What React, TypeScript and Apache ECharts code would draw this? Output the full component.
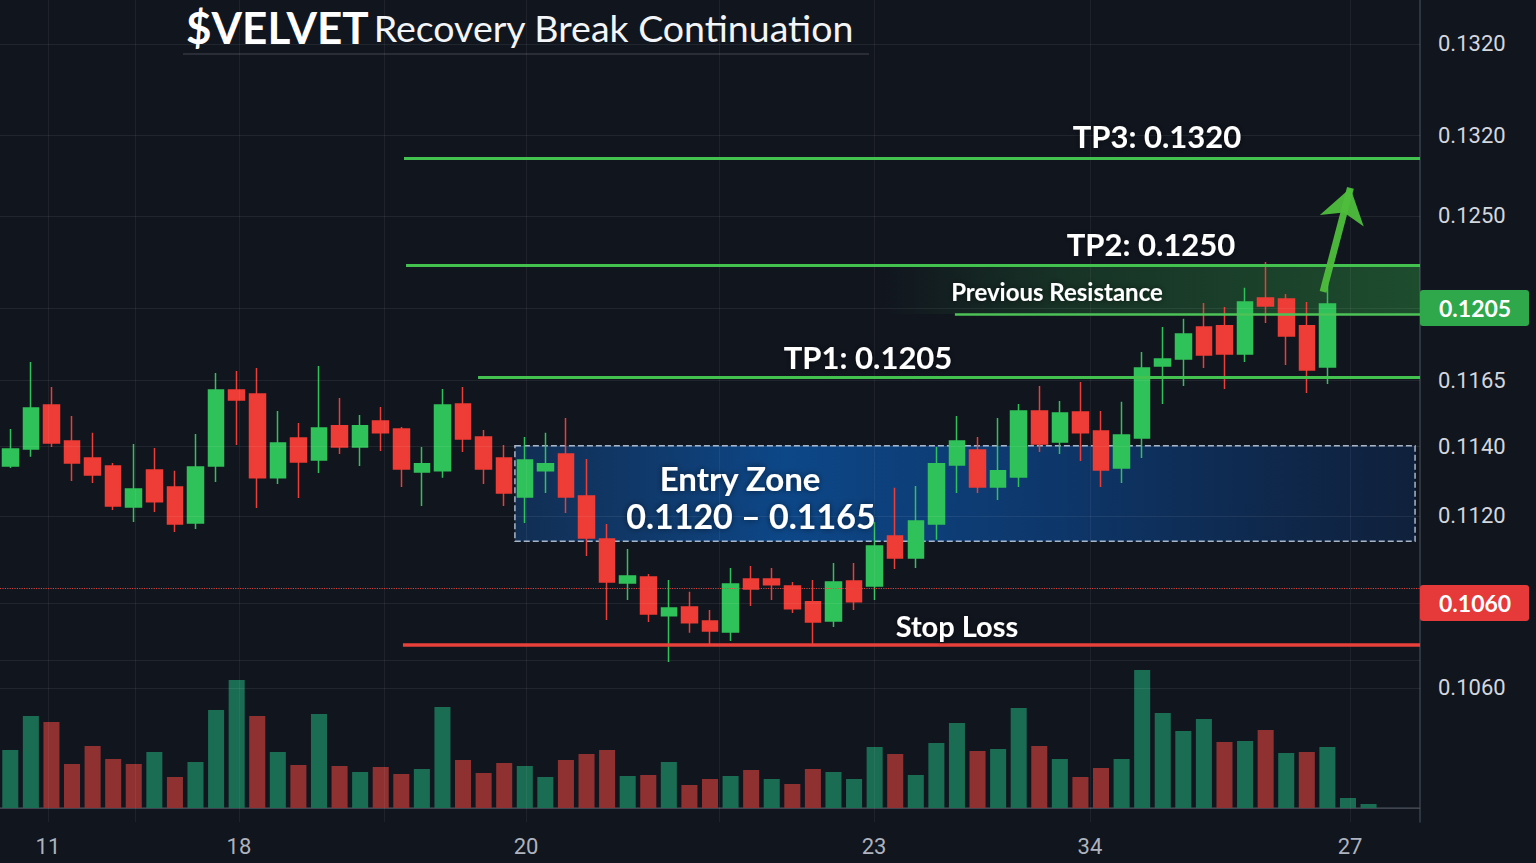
import React, { useEffect, useRef } from "react";
import * as echarts from "echarts";

// ---------- data ----------
const slotCount = 69; // category slots on the time axis (last few are empty)

// [open, close, low, high]
const candles: number[][] = [
  [0.11555, 0.11635, 0.11546, 0.11729],
  [0.11635, 0.11828, 0.11598, 0.12045],
  [0.11842, 0.11663, 0.11645, 0.11927],
  [0.11673, 0.11569, 0.11484, 0.11791],
  [0.11593, 0.11513, 0.11475, 0.11711],
  [0.11555, 0.11367, 0.11348, 0.11569],
  [0.11362, 0.11447, 0.11291, 0.11659],
  [0.11536, 0.11386, 0.11338, 0.1164],
  [0.11456, 0.11282, 0.11244, 0.11532],
  [0.11287, 0.1155, 0.11258, 0.11706],
  [0.11555, 0.11913, 0.1148, 0.11993],
  [0.11913, 0.11866, 0.11654, 0.12002],
  [0.11894, 0.11499, 0.11357, 0.12017],
  [0.11499, 0.11663, 0.1147, 0.11814],
  [0.11687, 0.11574, 0.11404, 0.11758],
  [0.11583, 0.11734, 0.11522, 0.12026],
  [0.11744, 0.11645, 0.11612, 0.11875],
  [0.11645, 0.11744, 0.11555, 0.11795],
  [0.11767, 0.11711, 0.11626, 0.11833],
  [0.11729, 0.11541, 0.11456, 0.11739],
  [0.11527, 0.11565, 0.11367, 0.11645],
  [0.11532, 0.11842, 0.11499, 0.11918],
  [0.11847, 0.11682, 0.11621, 0.11927],
  [0.11692, 0.11541, 0.1147, 0.11725],
  [0.11593, 0.11428, 0.11367, 0.11654],
  [0.11409, 0.11583, 0.11287, 0.11692],
  [0.11532, 0.11565, 0.11428, 0.11711],
  [0.11612, 0.11409, 0.11334, 0.11781],
  [0.11414, 0.11216, 0.11131, 0.11588],
  [0.11211, 0.11009, 0.1083, 0.11282],
  [0.11004, 0.11037, 0.10924, 0.11164],
  [0.11032, 0.10858, 0.1082, 0.11046],
  [0.10849, 0.10886, 0.10632, 0.11018],
  [0.10891, 0.10816, 0.10769, 0.10962],
  [0.10825, 0.10778, 0.10716, 0.10877],
  [0.10773, 0.10999, 0.10731, 0.11075],
  [0.11023, 0.10976, 0.10896, 0.11084],
  [0.11023, 0.10995, 0.10924, 0.11075],
  [0.1099, 0.10882, 0.10863, 0.11009],
  [0.10915, 0.1082, 0.10716, 0.11018],
  [0.10825, 0.11009, 0.10797, 0.11098],
  [0.11013, 0.10915, 0.10877, 0.11098],
  [0.1099, 0.11178, 0.10924, 0.11291],
  [0.11225, 0.11122, 0.1107, 0.11452],
  [0.11122, 0.11296, 0.11075, 0.11461],
  [0.11282, 0.11565, 0.11207, 0.11645],
  [0.1156, 0.11673, 0.11428, 0.11791],
  [0.1163, 0.11456, 0.11428, 0.11692],
  [0.11456, 0.11532, 0.11395, 0.11781],
  [0.11503, 0.11814, 0.11456, 0.11847],
  [0.11814, 0.11659, 0.11621, 0.11932],
  [0.11668, 0.11805, 0.11612, 0.11861],
  [0.11809, 0.11711, 0.11579, 0.11951],
  [0.1172, 0.11536, 0.11456, 0.11814],
  [0.11546, 0.11701, 0.11475, 0.11857],
  [0.11687, 0.12017, 0.11593, 0.12092],
  [0.12026, 0.12059, 0.11847, 0.1221],
  [0.12059, 0.12177, 0.11932, 0.12248],
  [0.1221, 0.12078, 0.12017, 0.12323],
  [0.12215, 0.12083, 0.11918, 0.12304],
  [0.12083, 0.12328, 0.12045, 0.12394],
  [0.12346, 0.12309, 0.12229, 0.12516],
  [0.12342, 0.12167, 0.12031, 0.12365],
  [0.12215, 0.12007, 0.11899, 0.12328],
  [0.12021, 0.12318, 0.11941, 0.12412],
];

// volume (K) and whether each volume bar is an "up" bar
const volumes: number[] = [
  58, 92, 86, 44, 62, 49, 44, 56, 31, 46, 98, 128, 92, 56, 43, 94, 42, 36, 41, 34,
  39, 101, 48, 35, 45, 42, 31, 48, 54, 58, 32, 33, 46, 23, 29, 32, 38, 29, 24, 39,
  36, 29, 61, 54, 33, 65, 85, 57, 59, 100, 62, 49, 31, 40, 49, 138, 95, 77, 89, 66,
  67, 78, 55, 56, 61, 10, 4,
];
const volumeUp: number[] = [
  1, 1, 0, 0, 0, 0, 0, 1, 0, 1, 1, 1, 0, 1, 0, 1, 0, 1, 0, 0,
  1, 1, 0, 0, 0, 1, 1, 0, 0, 0, 1, 0, 1, 0, 0, 1, 0, 1, 0, 0,
  1, 1, 1, 0, 1, 1, 1, 0, 1, 1, 0, 1, 0, 0, 1, 1, 1, 1, 1, 0,
  1, 0, 1, 0, 1, 1, 1,
];

// price levels
const tp3Level = 0.13006;
const tp2Level = 0.12502;
const prevResistanceLevel = 0.12271;
const prevResistanceTop = 0.12502;
const tp1Level = 0.11974;
const entryHigh = 0.1165;
const entryLow = 0.112;
const alertLevel = 0.10981;
const stopLevel = 0.10712;

// price-axis grid lines and their printed labels
const gridPrices: number[] = [0.13543, 0.13114, 0.12733, 0.12299, 0.1196, 0.11649, 0.1132, 0.1091, 0.10641, 0.1051];
const gridLabels: string[] = ["0.1320", "0.1320", "0.1250", "0.1205", "0.1165", "0.1140", "0.1120", "0.1060", "", "0.1060"];
const gridBadge: string[] = ["", "", "", "up", "", "", "", "down", "", ""];

// time-axis grid lines (slot units) and their labels
const timeGridSlots: number[] = [1.83, 6.06, 11.11, 18.16, 25.06, 34.44, 41.97, 52.46, 65.1];
const timeLabels: string[] = ["11", "", "18", "", "20", "", "23", "34", "27"];

// annotation texts
const titleTicker = "$VELVET";
const titleText = "Recovery Break Continuation";
const annotationTexts: string[] = ["TP3: 0.1320", "TP2: 0.1250", "Previous Resistance", "TP1: 0.1205", "Entry Zone", "0.1120 – 0.1165", "Stop Loss"];

// ---------- layout (positions in slot / price units) ----------
const priceMin = 0.09878;
const priceMax = 0.1375;
const volMin = -14;
const volMax = 808;
const slotEnd = slotCount - 0.5;

const annotationAnchors: number[][] = [
  [55.72, 0.13109],
  [55.43, 0.12601],
  [50.86, 0.12379],
  [41.68, 0.12069],
  [35.46, 0.11499],
  [35.99, 0.1132],
  [46.0, 0.10802],
];
const annotationSizes: number[] = [31, 31, 24, 31, 33, 34, 29];

const GREEN = "#30c25a";
const RED = "#ee3c36";
const LINE_GREEN = "#43c24f";

export default function App() {
  const ref = useRef<HTMLDivElement>(null);

  useEffect(() => {
    if (!ref.current) return;
    const chart = echarts.init(ref.current, undefined, { renderer: "svg" });
    const categories = Array.from({ length: slotCount }, (_, i) => String(i + 1));

    const textShadow = { textShadowColor: "rgba(0,0,0,0.55)", textShadowBlur: 6 };

    const gridLineData = gridPrices.map((p, i) => {
      const badge = gridBadge[i];
      const label: any = badge
        ? {
            show: true,
            position: "end",
            distance: 0,
            formatter: gridLabels[i],
            color: "#ffffff",
            fontFamily: "Lato",
            fontWeight: "bold",
            fontSize: 23,
            backgroundColor: badge === "up" ? "#2fa84b" : "#e5393a",
            borderRadius: 3,
            padding: [7, 14, 6, 19],
            width: 76,
          }
        : {
            show: gridLabels[i] !== "",
            position: "end",
            distance: 18,
            formatter: gridLabels[i],
            color: "#d3d7de",
            fontFamily: "Roboto",
            fontSize: 22,
          };
      return { yAxis: p, label, lineStyle: { color: "rgba(255,255,255,0.07)", width: 1, type: "solid" } };
    });

    const timeLineData = timeGridSlots.map((s, i) => ({
      xAxis: s,
      label: {
        show: timeLabels[i] !== "",
        position: "start",
        distance: 13,
        formatter: timeLabels[i],
        color: "#aeb3bd",
        fontFamily: "Roboto",
        fontSize: 22,
      },
      lineStyle: { color: "rgba(255,255,255,0.06)", width: 1, type: "solid" },
    }));

    const seg = (x0: number, x1: number, y: number, style: any) => [
      { coord: [x0, y], lineStyle: style },
      { coord: [x1, y] },
    ];

    const levelLines = [
      seg(19.13, slotEnd, tp3Level, { color: LINE_GREEN, width: 3, type: "solid" }),
      seg(19.23, slotEnd, tp2Level, { color: LINE_GREEN, width: 3, type: "solid" }),
      seg(45.9, slotEnd, prevResistanceLevel, { color: "#4cc257", width: 2.5, type: "solid" }),
      seg(22.73, slotEnd, tp1Level, { color: LINE_GREEN, width: 3, type: "solid" }),
      seg(-0.5, slotEnd, alertLevel, { color: "rgba(232,72,64,0.9)", width: 1.2, type: "dotted" }),
      seg(19.08, slotEnd, stopLevel, { color: "#e8403b", width: 3.5, type: "solid" }),
    ];

    const option: any = {
      animation: false,
      backgroundColor: "#11151e",
      title: {
        left: 186,
        top: 0,
        padding: 0,
        text: `{a|${titleTicker}} {b|${titleText}}`,
        textStyle: {
          rich: {
            a: { fontFamily: "Lato", fontWeight: "bold", fontSize: 44, color: "#ffffff", lineHeight: 54 },
            b: { fontFamily: "Lato", fontWeight: "normal", fontSize: 37.5, color: "#f3f5f8", lineHeight: 54 },
          },
        },
      },
      graphic: [
        {
          type: "line",
          shape: { x1: 183, y1: 54, x2: 869, y2: 54 },
          style: { stroke: "rgba(255,255,255,0.14)", lineWidth: 1.5 },
          silent: true,
        },
      ],
      grid: { left: 0, top: 0, width: 1420, height: 822 },
      xAxis: [
        {
          type: "category",
          data: categories,
          boundaryGap: true,
          axisLine: { show: true, lineStyle: { color: "#3a404b", width: 1.5 } },
          axisTick: { show: false },
          axisLabel: { show: false },
          splitLine: { show: false },
        },
        { type: "value", min: -0.5, max: slotEnd, show: false },
      ],
      yAxis: [
        {
          type: "value",
          min: priceMin,
          max: priceMax,
          position: "right",
          axisLine: { show: true, onZero: false, lineStyle: { color: "#3a404b", width: 1.5 } },
          axisTick: { show: false },
          axisLabel: { show: false },
          splitLine: { show: false },
        },
        { type: "value", min: volMin, max: volMax, show: false },
      ],
      series: [
        {
          name: "grid",
          type: "line",
          xAxisIndex: 1,
          yAxisIndex: 0,
          data: [],
          z: 1,
          markLine: {
            silent: true,
            precision: 6,
            symbol: ["none", "none"],
            data: [...gridLineData, ...timeLineData],
          },
        },
        {
          name: "zones",
          type: "line",
          xAxisIndex: 1,
          yAxisIndex: 0,
          data: [],
          z: 2,
          markArea: {
            silent: true,
            data: [
              [
                {
                  coord: [42.26, prevResistanceTop],
                  itemStyle: {
                    color: new echarts.graphic.LinearGradient(0, 0, 1, 0, [
                      { offset: 0, color: "rgba(40,130,60,0)" },
                      { offset: 0.35, color: "rgba(40,130,60,0.28)" },
                      { offset: 1, color: "rgba(45,145,65,0.45)" },
                    ]),
                  },
                },
                { coord: [slotEnd, prevResistanceLevel] },
              ],
              [
                {
                  coord: [24.52, entryHigh],
                  itemStyle: {
                    color: new echarts.graphic.LinearGradient(0, 0, 1, 0, [
                      { offset: 0, color: "rgba(18,60,112,0.65)" },
                      { offset: 0.3, color: "rgba(12,80,155,0.85)" },
                      { offset: 0.6, color: "rgba(12,66,132,0.75)" },
                      { offset: 1, color: "rgba(14,42,84,0.55)" },
                    ]),
                    borderColor: "rgba(205,220,240,0.8)",
                    borderWidth: 1.5,
                    borderType: "dashed",
                  },
                },
                { coord: [68.26, entryLow] },
              ],
            ],
          },
          markLine: {
            silent: true,
            precision: 6,
            symbol: ["none", "none"],
            label: { show: false },
            data: levelLines,
          },
        },
        {
          name: "Volume",
          type: "bar",
          xAxisIndex: 0,
          yAxisIndex: 1,
          barWidth: "78%",
          z: 3,
          data: volumes.map((v, i) => ({
            value: v,
            itemStyle: { color: volumeUp[i] ? "#1a6c53" : "#8f3131" },
          })),
          markLine: {
            silent: true,
            symbol: ["none", "none"],
            label: { show: false },
            data: [{ yAxis: 0, lineStyle: { color: "rgba(255,255,255,0.08)", width: 1, type: "solid" } }],
          },
        },
        {
          name: "Price",
          type: "candlestick",
          xAxisIndex: 0,
          yAxisIndex: 0,
          barWidth: "78%",
          z: 4,
          data: candles,
          itemStyle: {
            color: GREEN,
            color0: RED,
            borderColor: GREEN,
            borderColor0: RED,
            borderWidth: 1.5,
          },
        },
        {
          name: "annotations",
          type: "line",
          xAxisIndex: 1,
          yAxisIndex: 0,
          data: [],
          z: 6,
          itemStyle: { color: "#4ebe3c" },
          lineStyle: { color: "#4ebe3c" },
          markLine: {
            silent: true,
            precision: 6,
            symbol: ["none", "arrow"],
            symbolSize: 34,
            label: { show: false },
            itemStyle: { color: "#4ebe3c" },
            lineStyle: { color: "#4ebe3c", width: 7, type: "solid", curveness: 0.08, opacity: 0.95 },
            data: [
              [
                { coord: [63.79, 0.12375] },
                { coord: [65.12, 0.12865] },
              ],
            ],
          },
          markPoint: {
            silent: true,
            symbol: "rect",
            symbolSize: 1,
            itemStyle: { color: "rgba(0,0,0,0)" },
            data: annotationTexts.map((t, i) => ({
              coord: annotationAnchors[i],
              label: {
                show: true,
                position: "inside",
                formatter: t,
                color: "#ffffff",
                fontFamily: "Lato",
                fontWeight: "bold",
                fontSize: annotationSizes[i],
                ...textShadow,
              },
            })),
          },
        },
      ],
    };

    chart.setOption(option);
    return () => chart.dispose();
  }, []);

  return <div ref={ref} style={{ position: "fixed", left: 0, top: 0, width: 1536, height: 863 }} />;
}
